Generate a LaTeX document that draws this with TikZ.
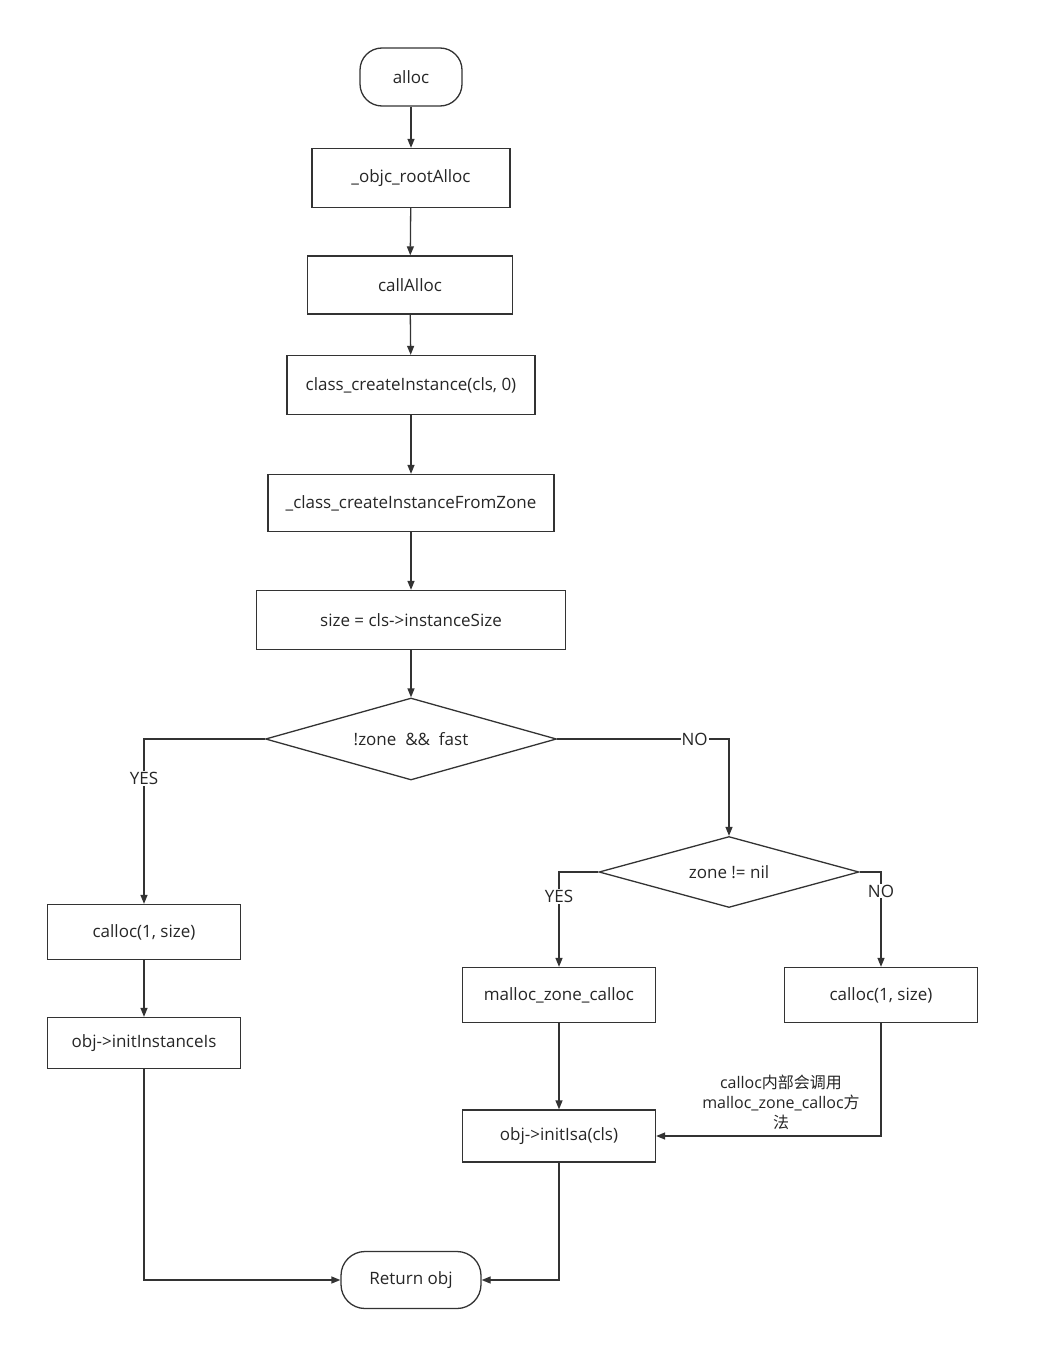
\documentclass[tikz,border=0pt]{standalone}
\usepackage{fontspec}
\setmainfont{Open Sans}
\newfontfamily\cjk{Noto Sans CJK SC}
\usetikzlibrary{shapes.geometric,arrows.meta}
\begin{document}
\begin{tikzpicture}[x=1pt,y=-1pt,
  every node/.style={font=\fontsize{17}{20}\selectfont, text=black!85},
  box/.style={draw=black!80, line width=1.3pt, rectangle, inner sep=0pt},
  dia/.style={draw=black!80, line width=1.3pt, diamond, aspect=3.5, inner sep=0pt},
  ln/.style={draw=black!80, line width=1.3pt},
  ar/.style={ln, -{Triangle[length=9pt,width=7pt]}},
  lab/.style={fill=white, inner sep=1pt}]
\useasboundingbox (0,0) rectangle (1040,1370);
\node[box, rounded corners=22pt, minimum width=102pt, minimum height=58pt] (alloc) at (411,77) {alloc};
\node[box, minimum width=198pt, minimum height=59pt] (root) at (411,178) {\_objc\_rootAlloc};
\node[box, minimum width=205pt, minimum height=58pt] (call) at (410,285) {callAlloc};
\node[box, minimum width=248pt, minimum height=59pt] (cci) at (411,385) {class\_createInstance(cls, 0)};
\node[box, minimum width=286pt, minimum height=57pt] (ccz) at (411,503) {\_class\_createInstanceFromZone};
\node[box, minimum width=309pt, minimum height=59pt] (size) at (411,620) {size = cls->instanceSize};
\node[dia, minimum width=291pt, minimum height=82pt] (d1) at (411,739) {!zone\ \ \&\&\ \ fast};
\node[box, minimum width=193pt, minimum height=55pt] (cl) at (144,932) {calloc(1, size)};
\node[box, minimum width=193pt, minimum height=51pt] (iii) at (144,1043) {obj->initInstanceIs};
\node[dia, minimum width=260pt, minimum height=71pt] (d2) at (729,872) {zone != nil};
\node[box, minimum width=193pt, minimum height=55pt] (mzc) at (559,995) {malloc\_zone\_calloc};
\node[box, minimum width=193pt, minimum height=55pt] (cr) at (881,995) {calloc(1, size)};
\node[box, minimum width=193pt, minimum height=52pt] (isa) at (559,1136) {obj->initIsa(cls)};
\node[box, rounded corners=24pt, minimum width=140pt, minimum height=57pt] (ret) at (411,1280) {Return obj};
\draw[ar] (alloc) -- (root);
\draw[ar] (root) -- (call);
\draw[ar] (call) -- (cci);
\draw[ar] (cci) -- (ccz);
\draw[ar] (ccz) -- (size);
\draw[ar] (size) -- (d1);
\draw[ar] (d1.west) -| node[lab, pos=0.62] {YES} (cl.north);
\draw[ar] (d1.east) -| node[lab, pos=0.4] {NO} (d2.north);
\draw[ar] (d2.west) -| node[lab, pos=0.63] {YES} (mzc.north);
\draw[ar] (d2.east) -| node[lab, pos=0.6] {NO} (cr.north);
\draw[ar] (cl) -- (iii);
\draw[ar] (mzc) -- (isa);
\draw[ar] (cr.south) |- (isa.east);
\node[lab, align=center, font=\fontsize{16}{20}\selectfont] (note) at (781,1102) {calloc{\cjk 内部会调用}\\malloc\_zone\_calloc{\cjk 方}\\{\cjk 法}};
\draw[ar] (iii.south) |- (ret.west);
\draw[ar] (isa.south) |- (ret.east);
\end{tikzpicture}
\end{document}
